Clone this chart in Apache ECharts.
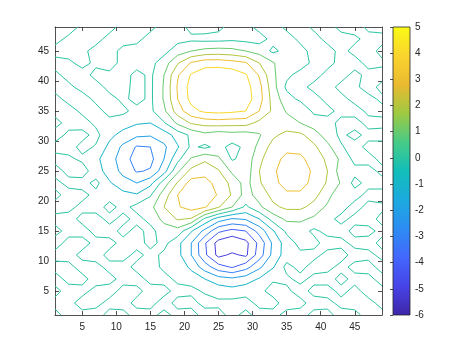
<!DOCTYPE html>
<html>
<head>
<meta charset="utf-8">
<title>contour</title>
<style>
html, body { margin: 0; padding: 0; background: #fff; }
#chart { width: 474px; height: 355px; }
</style>
</head>
<body>
<div id="chart"></div>
<script src="https://cdn.jsdelivr.net/npm/echarts@6.0.0/dist/echarts.min.js"></script>
<script>
// grid positions (every 2 units)
var xGrid = [1, 3, 5, 7, 9, 11, 13, 15, 17, 19, 21, 23, 25, 27, 29, 31, 33, 35, 37, 39, 41, 43, 45, 47, 49];
var yGrid = [1, 3, 5, 7, 9, 11, 13, 15, 17, 19, 21, 23, 25, 27, 29, 31, 33, 35, 37, 39, 41, 43, 45, 47, 49];

// values, first row is y = 49, last row is y = 1
var zRows = [
    [0.3, 0.4, -0.2, -0.4, -0.3, 0.3, 0.4, 0.2, -0.3, -0.4, 0.3, 0.4, 0.2, -0.3, -0.3, 0.3, 0.4, -0.2, -0.4, 0.2, 0.4, -0.3, -0.4, 0.2, 0.3],
    [0.3, -0.2, -0.4, -0.3, 0.3, 0.4, 0.2, -0.3, -0.4, -0.3, -0.2, -0.3, -0.3, -0.2, -0.3, -0.4, 0.3, 0.4, -0.2, -0.4, 0.3, 0.4, 0.2, -0.3, -0.3],
    [-0.3, -0.4, -0.2, 0.3, 0.4, -0.3, -0.3, -0.4, -0.3, 0.5, 1.0, 1.3, 1.4, 1.3, 1.0, 0.6, -0.2, 0.3, 0.3, -0.3, -0.4, 0.3, -0.3, -0.4, 0.3],
    [0.3, 0.2, -0.3, 0.2, 0.4, -0.3, -0.4, -0.3, 0.5, 1.9, 3.1, 3.6, 3.6, 3.4, 3.1, 2.0, 1.1, 0.3, 0.4, -0.2, -0.3, 0.3, 0.4, -0.3, -0.2],
    [-0.2, 0.3, 0.4, -0.3, -0.2, -0.4, 0.3, -0.2, 1.0, 2.9, 4.1, 4.6, 4.7, 4.6, 4.1, 2.9, 1.2, 0.2, -0.3, -0.4, 0.3, 0.4, -0.3, 0.3, 0.4],
    [-0.3, -0.2, 0.3, 0.4, -0.3, -0.3, 0.3, -0.2, 1.1, 3.1, 4.4, 4.9, 4.95, 4.9, 4.4, 3.3, 1.4, -0.2, -0.3, 0.3, 0.4, -0.3, -0.2, 0.4, -0.3],
    [0.3, -0.3, -0.4, 0.2, 0.3, -0.2, 0.3, -0.2, 1.1, 3.0, 4.3, 4.8, 4.9, 4.8, 4.5, 3.4, 1.6, 0.4, -0.2, -0.4, 0.3, 0.3, -0.3, -0.3, 0.2],
    [0.3, 0.4, -0.2, -0.3, 0.3, 0.2, -0.3, -0.2, 0.8, 2.5, 3.7, 4.2, 4.3, 4.2, 4.0, 3.0, 1.8, 0.9, 0.8, -0.2, -0.3, 0.3, 0.4, -0.2, -0.3],
    [-0.3, 0.3, 0.4, -0.2, -0.3, -0.5, -0.9, -1.0, -0.1, 1.2, 2.1, 2.4, 2.5, 2.4, 2.4, 1.7, 1.6, 1.4, 1.0, 0.5, 0.4, -0.3, -0.4, 0.3, 0.3],
    [0.4, -0.2, -0.3, 0.3, -0.7, -1.4, -1.8, -1.9, -1.5, -0.6, 0.2, 0.7, 0.4, 0.6, 0.5, 0.9, 1.8, 2.3, 2.2, 1.5, 0.5, -0.2, 0.3, -0.3, -0.4],
    [-0.3, -0.4, 0.3, -0.1, -1.3, -2.2, -3.1, -3.0, -2.2, -1.1, 0.2, -0.2, 0.3, -0.3, 0.2, 1.3, 2.4, 2.7, 2.7, 2.2, 1.3, 0.1, -0.4, 0.3, 0.4],
    [0.3, 0.2, -0.2, -0.8, -1.5, -2.6, -3.4, -3.3, -2.0, -0.3, 1.1, 1.8, 1.2, -0.1, 0.3, 1.8, 2.6, 3.3, 3.2, 2.6, 1.8, 0.8, -0.3, -0.4, 0.3],
    [-0.4, 0.3, 0.5, -0.6, -1.4, -2.3, -3.1, -2.9, -1.4, 0.8, 2.3, 2.7, 2.1, 0.8, 0.4, 2.0, 2.8, 3.6, 3.6, 2.8, 2.0, 0.5, 0.3, 0.4, -0.3],
    [0.3, -0.3, -0.4, 0.3, -0.9, -1.6, -2.0, -1.3, 0.5, 2.1, 3.4, 3.3, 2.7, 1.7, 0.6, 1.9, 2.7, 3.4, 3.4, 2.7, 1.9, 0.9, -0.3, 0.3, 0.4],
    [-0.3, 0.4, 0.3, -0.3, -0.4, -0.7, -0.9, -0.1, 1.5, 3.0, 3.8, 3.6, 2.9, 1.9, 0.6, 1.4, 2.3, 2.8, 2.8, 2.3, 1.4, 0.1, 0.4, -0.3, -0.4],
    [0.4, 0.3, -0.3, -0.4, 0.3, -0.3, 0.3, 0.7, 2.0, 2.9, 3.4, 3.1, 2.1, 1.0, -0.2, 0.8, 1.8, 2.2, 2.2, 1.7, 0.8, 0.4, -0.4, 0.3, 0.2],
    [-0.3, -0.4, 0.3, 0.4, -0.3, 0.3, -0.3, 0.3, 1.3, 2.1, 1.9, -0.2, -1.5, -2.1, -1.9, -1.0, 0.4, 1.2, 1.2, 0.8, 0.3, -0.3, 0.3, 0.4, -0.3],
    [0.3, -0.3, -0.4, 0.3, 0.4, -0.3, 0.3, -0.3, 0.5, 0.6, -0.9, -2.3, -3.8, -4.3, -4.0, -2.6, -1.1, 0.2, 0.4, -0.2, 0.3, 0.4, -0.3, -0.3, 0.3],
    [-0.4, 0.3, 0.4, -0.3, -0.3, 0.3, 0.4, -0.3, 0.3, -0.7, -2.0, -3.9, -5.4, -5.9, -5.3, -3.7, -1.8, -0.5, 0.3, 0.3, -0.4, -0.3, 0.3, 0.4, -0.3],
    [0.3, 0.4, -0.3, -0.4, 0.3, 0.4, -0.3, 0.3, -0.2, -0.7, -2.0, -3.8, -5.3, -4.8, -5.2, -3.5, -1.7, -0.5, -0.2, -0.3, 0.3, 0.4, -0.4, -0.3, 0.3],
    [-0.3, -0.3, 0.4, 0.3, -0.3, -0.4, 0.3, 0.4, -0.2, -0.1, -1.3, -2.5, -3.6, -4.1, -3.4, -2.2, -1.1, 0.3, -0.3, 0.4, 0.3, -0.3, 0.3, 0.4, -0.4],
    [0.4, -0.3, -0.3, 0.4, 0.3, -0.3, -0.4, 0.3, 0.3, -0.2, -0.3, -1.0, -1.6, -1.8, -1.5, -0.9, -0.1, -0.2, 0.3, -0.3, -0.4, 0.3, -0.3, -0.3, 0.4],
    [-0.3, 0.4, 0.3, -0.3, -0.4, 0.3, 0.3, -0.4, -0.3, 0.3, 0.2, -0.1, -0.4, -0.6, -0.4, -0.2, 0.3, 0.2, -0.4, 0.3, 0.4, -0.3, 0.3, -0.4, -0.3],
    [0.3, 0.3, -0.4, -0.3, 0.3, 0.4, -0.3, -0.3, 0.4, -0.3, -0.3, 0.3, 0.2, 0.3, 0.4, -0.3, -0.3, 0.4, 0.3, -0.4, -0.3, 0.3, 0.4, 0.3, -0.3],
    [-0.3, 0.4, 0.3, 0.4, -0.3, -0.3, 0.4, 0.3, -0.3, 0.3, 0.4, -0.4, -0.3, 0.3, -0.3, 0.4, 0.3, -0.3, -0.4, 0.3, 0.3, -0.4, -0.3, 0.4, 0.3]
];

var levels = [-6, -5, -4, -3, -2, -1, 0, 1, 2, 3, 4, 5];
var xTicks = [5, 10, 15, 20, 25, 30, 35, 40, 45];
var yTicks = [5, 10, 15, 20, 25, 30, 35, 40, 45];
var cbTicks = [-6, -5, -4, -3, -2, -1, 0, 1, 2, 3, 4, 5];
var cMin = -6, cMax = 5;

// parula colour map
var parula = ['#3e26a8', '#4743e7', '#4367fd', '#2d8cf3', '#1caadf', '#12beb9',
              '#48cb86', '#9fc942', '#eaba30', '#fad42e', '#f9fb15'];

var z = zRows.slice().reverse(); // z[j][i] -> yGrid[j], xGrid[i]

function hexToRgb(h) {
    return [parseInt(h.substr(1, 2), 16), parseInt(h.substr(3, 2), 16), parseInt(h.substr(5, 2), 16)];
}
function colorAt(v) {
    var t = Math.max(0, Math.min(1, (v - cMin) / (cMax - cMin)));
    var f = t * (parula.length - 1);
    var k = Math.min(Math.floor(f), parula.length - 2), r = f - k;
    var a = hexToRgb(parula[k]), b = hexToRgb(parula[k + 1]);
    return 'rgb(' + [0, 1, 2].map(function (n) { return Math.round(a[n] + (b[n] - a[n]) * r); }).join(',') + ')';
}

// marching squares
function contourSegments(level) {
    var segs = [];
    for (var j = 0; j < yGrid.length - 1; j++) {
        for (var i = 0; i < xGrid.length - 1; i++) {
            var a = z[j][i], b = z[j][i + 1], c = z[j + 1][i + 1], d = z[j + 1][i];
            var x0 = xGrid[i], x1 = xGrid[i + 1], y0 = yGrid[j], y1 = yGrid[j + 1];
            var code = (a > level ? 1 : 0) | (b > level ? 2 : 0) | (c > level ? 4 : 0) | (d > level ? 8 : 0);
            if (code === 0 || code === 15) continue;
            var E = [
                function () { return [x0 + (level - a) / (b - a) * (x1 - x0), y0]; },
                function () { return [x1, y0 + (level - b) / (c - b) * (y1 - y0)]; },
                function () { return [x0 + (level - d) / (c - d) * (x1 - x0), y1]; },
                function () { return [x0, y0 + (level - a) / (d - a) * (y1 - y0)]; }
            ];
            var mid = (a + b + c + d) / 4, pairs;
            switch (code) {
                case 1: case 14: pairs = [[3, 0]]; break;
                case 2: case 13: pairs = [[0, 1]]; break;
                case 3: case 12: pairs = [[3, 1]]; break;
                case 4: case 11: pairs = [[1, 2]]; break;
                case 6: case 9: pairs = [[0, 2]]; break;
                case 7: case 8: pairs = [[2, 3]]; break;
                case 5: pairs = mid > level ? [[0, 1], [2, 3]] : [[3, 0], [1, 2]]; break;
                case 10: pairs = mid > level ? [[3, 0], [1, 2]] : [[0, 1], [2, 3]]; break;
            }
            for (var p = 0; p < pairs.length; p++) {
                segs.push([E[pairs[p][0]](), E[pairs[p][1]]()]);
            }
        }
    }
    return segs;
}

// join segments into polylines
function chain(segs) {
    var key = function (pt) { return pt[0].toFixed(4) + ',' + pt[1].toFixed(4); };
    var map = {}, used = [], out = [];
    segs.forEach(function (s, k) {
        used.push(false);
        [0, 1].forEach(function (e) {
            var kk = key(s[e]);
            (map[kk] = map[kk] || []).push(k);
        });
    });
    function grow(line, atEnd) {
        while (true) {
            var pt = atEnd ? line[line.length - 1] : line[0];
            var cand = map[key(pt)] || [], next = -1;
            for (var t = 0; t < cand.length; t++) {
                if (!used[cand[t]]) { next = cand[t]; break; }
            }
            if (next < 0) return;
            used[next] = true;
            var s = segs[next];
            var q = key(s[0]) === key(pt) ? s[1] : s[0];
            if (atEnd) line.push(q); else line.unshift(q);
        }
    }
    for (var k = 0; k < segs.length; k++) {
        if (used[k]) continue;
        used[k] = true;
        var line = [segs[k][0], segs[k][1]];
        grow(line, true);
        grow(line, false);
        out.push(line);
    }
    return out;
}

var axisColor = '#262626';
var font = 'Liberation Sans, Arial, Helvetica, sans-serif';

var series = levels.map(function (lv) {
    return {
        type: 'lines',
        coordinateSystem: 'cartesian2d',
        xAxisIndex: 0,
        yAxisIndex: 0,
        polyline: true,
        silent: true,
        animation: false,
        lineStyle: { color: colorAt(lv), width: 1, opacity: 1 },
        data: chain(contourSegments(lv)).map(function (p) { return { coords: p }; })
    };
});

// colour bar
series.push({
    type: 'custom',
    xAxisIndex: 2,
    yAxisIndex: 2,
    silent: true,
    animation: false,
    data: [[0, cMin]],
    renderItem: function (params, api) {
        var p0 = api.coord([0, cMax]);
        var p1 = api.coord([1, cMin]);
        var n = parula.length;
        var stops = [];
        for (var k = 0; k < n; k++) {
            stops.push({ offset: k / (n - 1), color: parula[n - 1 - k] });
        }
        return {
            type: 'rect',
            shape: { x: p0[0], y: p0[1], width: p1[0] - p0[0], height: p1[1] - p0[1] },
            style: {
                fill: new echarts.graphic.LinearGradient(0, 0, 0, 1, stops),
                stroke: axisColor,
                lineWidth: 0.8
            }
        };
    }
});

var chart = echarts.init(document.getElementById('chart'));
chart.setOption({
    backgroundColor: '#ffffff',
    animation: false,
    grid: [
        { left: 55, top: 27, width: 327, height: 288 },
        { left: 393, top: 27, width: 17, height: 288 }
    ],
    xAxis: [
        {
            gridIndex: 0, type: 'value', min: 1, max: 49, position: 'bottom',
            axisLine: { show: true, onZero: false, lineStyle: { color: axisColor, width: 0.8 } },
            axisTick: { show: true, inside: true, length: 4, customValues: xTicks, lineStyle: { color: axisColor, width: 0.8 } },
            axisLabel: { show: true, customValues: xTicks, color: axisColor, fontSize: 10, margin: 7, fontFamily: font },
            splitLine: { show: false }
        },
        {
            gridIndex: 0, type: 'value', min: 1, max: 49, position: 'top',
            axisLine: { show: true, onZero: false, lineStyle: { color: axisColor, width: 0.8 } },
            axisTick: { show: true, inside: true, length: 4, customValues: xTicks, lineStyle: { color: axisColor, width: 0.8 } },
            axisLabel: { show: false },
            splitLine: { show: false }
        },
        { gridIndex: 1, type: 'value', min: 0, max: 1, show: false }
    ],
    yAxis: [
        {
            gridIndex: 0, type: 'value', min: 1, max: 49, position: 'left',
            axisLine: { show: true, onZero: false, lineStyle: { color: axisColor, width: 0.8 } },
            axisTick: { show: true, inside: true, length: 4, customValues: yTicks, lineStyle: { color: axisColor, width: 0.8 } },
            axisLabel: { show: true, customValues: yTicks, color: axisColor, fontSize: 10, margin: 6, fontFamily: font },
            splitLine: { show: false }
        },
        {
            gridIndex: 0, type: 'value', min: 1, max: 49, position: 'right',
            axisLine: { show: true, onZero: false, lineStyle: { color: axisColor, width: 0.8 } },
            axisTick: { show: true, inside: true, length: 4, customValues: yTicks, lineStyle: { color: axisColor, width: 0.8 } },
            axisLabel: { show: false },
            splitLine: { show: false }
        },
        {
            gridIndex: 1, type: 'value', min: cMin, max: cMax, position: 'right',
            axisLine: { show: false },
            axisTick: { show: true, inside: true, length: 3, customValues: cbTicks, lineStyle: { color: axisColor, width: 0.8 } },
            axisLabel: { show: true, customValues: cbTicks, color: axisColor, fontSize: 10, margin: 5, fontFamily: font },
            splitLine: { show: false }
        }
    ],
    series: series
});
</script>
</body>
</html>
